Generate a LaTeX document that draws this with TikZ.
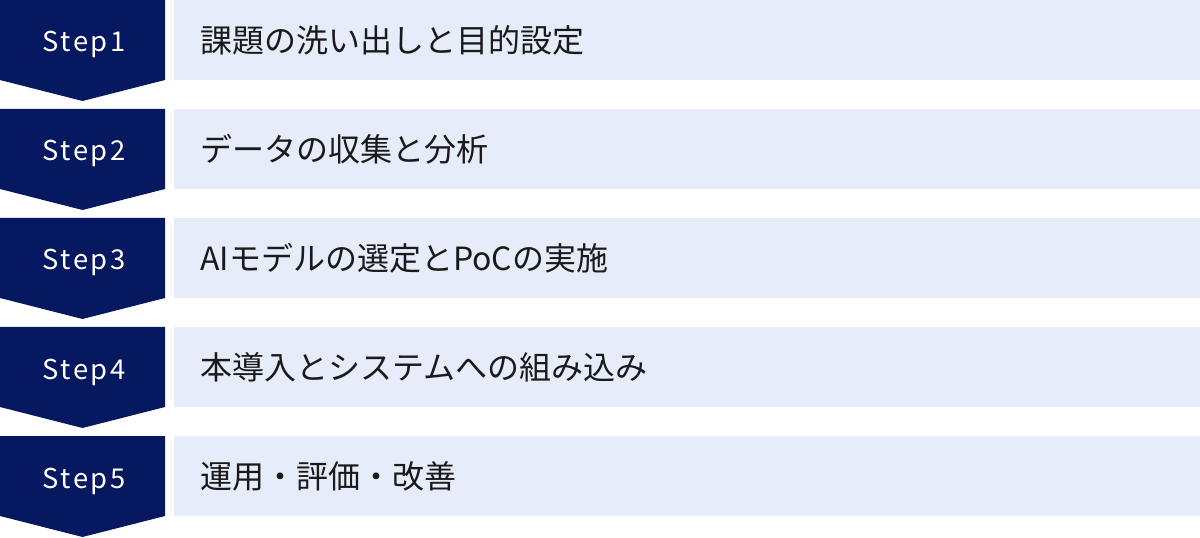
\documentclass[tikz,border=0pt]{standalone}
\usepackage{fontspec}
\setmainfont{Noto Sans CJK JP}
\newfontfamily\stepfont[LetterSpace=10]{Noto Sans CJK JP}
\usetikzlibrary{positioning}
\definecolor{navy}{HTML}{06185F}
\definecolor{pale}{HTML}{E6ECFA}
\definecolor{ink}{HTML}{1A1A1A}
\tikzset{
chevron/.style = {fill=navy, draw=none},
band/.style    = {fill=pale, draw=none},
steplabel/.style = {text=white, font=\stepfont\fontsize{20.5pt}{24pt}\selectfont, anchor=base, inner sep=0pt},
task/.style    = {text=ink, font=\fontsize{24pt}{28pt}\selectfont, anchor=west, inner sep=0pt}
}

\begin{document}
\begin{tikzpicture}[x=0.75pt, y=-0.75pt]
  \useasboundingbox (0,0) rectangle (1200,538);
  \foreach \i/\txt in {1/課題の洗い出しと目的設定,
                       2/データの収集と分析,
                       3/AIモデルの選定とPoCの実施,
                       4/本導入とシステムへの組み込み,
                       5/運用・評価・改善}{
    \pgfmathsetmacro{\top}{(\i-1)*109}
    \fill [chevron] (0,\top) -- (165,\top) -- (165,\top+80) -- (82.5,\top+101) -- (0,\top+80) -- cycle;
    \fill [band] (174,\top) rectangle (1200,\top+80);
    \node [steplabel] (step\i) at (84,\top+52) {Step\i};
    \node [task]      (task\i) at (200,\top+40)  {\txt};
  }
\end{tikzpicture}
\end{document}
